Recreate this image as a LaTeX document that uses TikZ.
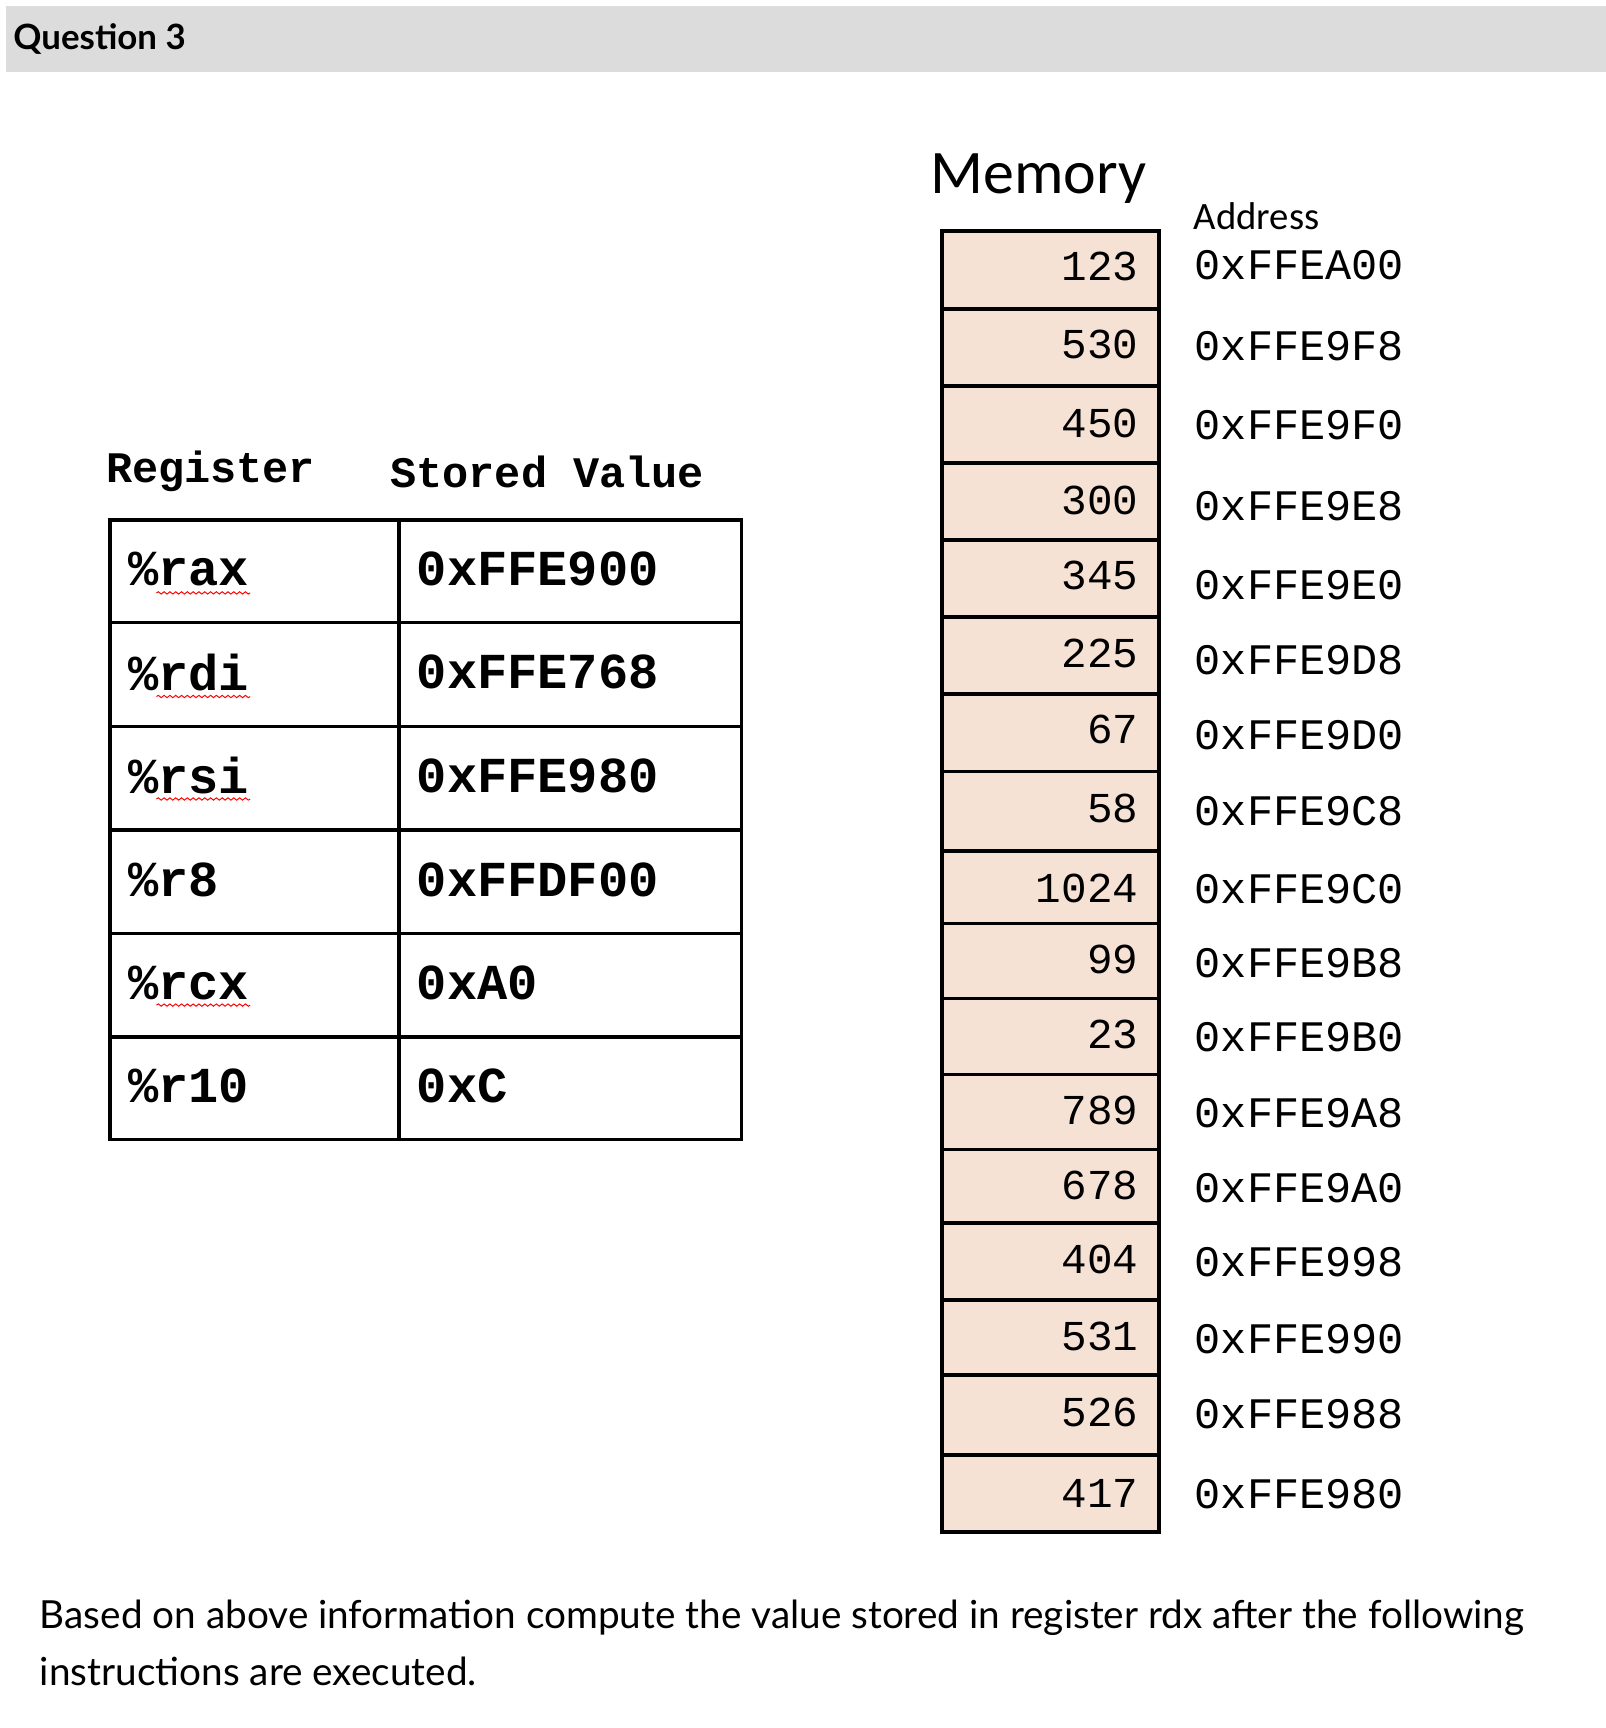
\documentclass[tikz,border=0pt]{standalone}
\usepackage{fontspec}
\setmainfont{Lato}
\newfontfamily\calib{Carlito}
\newfontfamily\cour{Liberation Mono}
\usetikzlibrary{decorations.pathmorphing}
\definecolor{hdr}{HTML}{DCDCDC}
\definecolor{peach}{HTML}{F5E2D4}
\tikzset{
 cell/.style={draw=black,line width=2pt,fill=peach},
 rcell/.style={draw=black,line width=1.8pt},
 memval/.style={anchor=east,font=\cour\fontsize{22}{22}\selectfont},
 addr/.style={anchor=west,font=\cour\fontsize{22.5}{22.5}\selectfont},
 reg/.style={anchor=west,font=\cour\bfseries\fontsize{26}{26}\selectfont},
 hd/.style={anchor=west,font=\cour\bfseries\fontsize{22.5}{22.5}\selectfont},
 squig/.style={red,line width=0.5pt,decorate,decoration={snake,amplitude=0.6pt,segment length=3pt}}
}
\begin{document}
\begin{tikzpicture}[x=0.02cm,y=-0.02cm]
\useasboundingbox (0,0) rectangle (1457,1568);
\fill[hdr] (5,5) rectangle (1457,65);
\node[anchor=west,font=\bfseries\fontsize{18}{18}\selectfont] (q) at (6,35) {Question 3};
\node[anchor=west,font=\calib\fontsize{32}{32}\selectfont] (mem) at (838,162) {Memory};
\node[anchor=west,font=\calib\fontsize{20}{20}\selectfont] (adr) at (1077,196) {Address};
% memory
\foreach \i/\ya/\yb/\v/\vy/\a/\ay in {
1/210/280/123/242/0xFFEA00/241,
2/280/350/530/313/0xFFE9F8/314,
3/350/420/450/384/0xFFE9F0/386,
4/420/490/300/454/0xFFE9E8/459,
5/490/560/345/522/0xFFE9E0/531,
6/560/630/225/593/0xFFE9D8/599,
7/630/700/67/662/0xFFE9D0/667,
8/700/772/58/734/0xFFE9C8/736,
9/772/838/1024/806/0xFFE9C0/807,
10/838/906/99/871/0xFFE9B8/874,
11/906/975/23/939/0xFFE9B0/941,
12/975/1043/789/1008/0xFFE9A8/1010,
13/1043/1110/678/1076/0xFFE9A0/1078,
14/1110/1180/404/1143/0xFFE998/1145,
15/1180/1248/531/1213/0xFFE990/1215,
16/1248/1320/526/1282/0xFFE988/1283,
17/1320/1390/417/1355/0xFFE980/1356}{
 \draw[cell] (855,\ya) rectangle (1052,\yb);
 \node[memval] (m\i) at (1039,\vy) {\v};
 \node[addr] (a\i) at (1078,\ay) {\a};
}
% registers
\node[hd] (h1) at (90,428) {Register};
\node[hd] (h2) at (348,428) {Stored Value};
\foreach \i/\ya/\yb/\r/\val in {
1/472/565/\%rax/0xFFE900,
2/565/659/\%rdi/0xFFE768,
3/659/753/\%rsi/0xFFE980,
4/753/847/\%r8/0xFFDF00,
5/847/941/\%rcx/0xA0,
6/941/1034/\%r10/0xC}{
 \draw[rcell] (100,\ya) rectangle (362,\yb);
 \draw[rcell] (362,\ya) rectangle (673,\yb);
 \node[reg] (r\i) at (110,{(\ya+\yb)/2-2}) {\r};
 \node[reg] (v\i) at (372,{(\ya+\yb)/2-2}) {\val};
}
\foreach \y in {538,632,725,912}{\draw[squig] (142,\y) -- (227,\y);}
\node[anchor=west,font=\fontsize{20}{20}\selectfont] (t1) at (30,1468) {Based on above information compute the value stored in register rdx after the following};
\node[anchor=west,font=\fontsize{20}{20}\selectfont] (t2) at (30,1517) {instructions are executed.};
\end{tikzpicture}
\end{document}
